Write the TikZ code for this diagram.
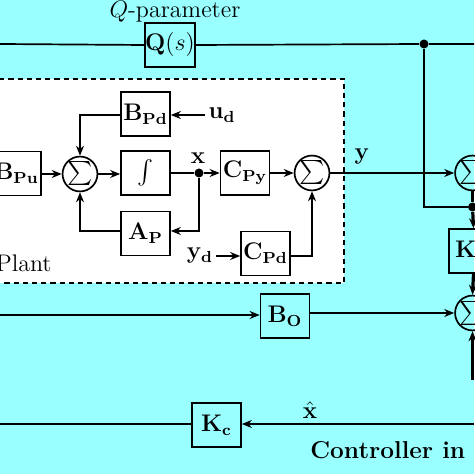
\documentclass[tikz,border=0pt]{standalone}
\usepackage{exscale}
\usetikzlibrary{arrows.meta}
\begin{document}
\begin{tikzpicture}[x=0.5pt,y=-0.5pt,
  every node/.style={font=\fontsize{12}{14}\selectfont},
  blk/.style={draw, line width=0.85pt, minimum width=24.5pt, minimum height=22pt, inner sep=0pt},
  sumc/.style={draw, circle, minimum size=16pt, inner sep=0pt, line width=0.85pt},
  dotn/.style={circle, fill, inner sep=0pt, minimum size=4.5pt},
  ln/.style={line width=0.85pt},
  conn/.style={line width=0.85pt, -{Stealth[length=5pt,width=4pt]}},
  txt/.style={inner sep=0pt}]
\definecolor{bgc}{RGB}{153,255,255}
\useasboundingbox (0,0) rectangle (474,474);
\fill[bgc] (0,0) rectangle (474,474);
% plant area
\fill[white] (-10,79) rectangle (344,283);
\draw[line width=0.9pt, dash pattern=on 2.6pt off 2pt] (-10,79) -- (344,79) -- (344,283) -- (-10,283);

% top Q path
\node[blk] (Q) at (170,45) {$\mathbf{Q}(s)$};
\node[txt] (Qlab) at (175,12) {$Q$-parameter};
\coordinate (qL) at (0,44);
\coordinate (qR) at (474,44);
\node[dotn] (d1) at (424,44) {};
\draw[ln] (qL) -- (Q.west);
\draw[ln] (Q.east) -- (d1) -- (qR);

% plant
\node[blk] (Bpu) at (16.5,173.5) {$\mathbf{B}_{\mathbf{Pu}}$};
\node[sumc] (s1) at (80,174) {$\sum$};
\node[blk] (int) at (145.5,173) {$\int$};
\node[blk] (Bpd) at (145.5,114) {$\mathbf{B}_{\mathbf{Pd}}$};
\node[txt] (ud) at (222,115) {$\mathbf{u}_{\mathbf{d}}$};
\node[dotn] (dx) at (199,173) {};
\node[txt] (xlab) at (198,158) {$\mathbf{x}$};
\node[blk] (Cpy) at (245,173) {$\mathbf{C}_{\mathbf{Py}}$};
\node[sumc] (s2) at (312,173) {$\sum$};
\node[blk] (Ap) at (145.5,233.5) {$\mathbf{A}_{\mathbf{P}}$};
\node[txt] (yd) at (200,256) {$\mathbf{y}_{\mathbf{d}}$};
\node[blk] (Cpd) at (265.5,253.5) {$\mathbf{C}_{\mathbf{Pd}}$};
\node[txt, anchor=base east] (plant) at (52,272) {Plant};

\draw[conn] (Bpu.east |- s1) -- (s1.west);
\draw[conn] (s1.east) -- (int.west |- s1);
\draw[ln] (int.east |- dx) -- (dx);
\draw[conn] (dx) -- (Cpy.west |- dx);
\draw[conn] (ud.west) ++(-3,0) -- (Bpd.east |- ud);
\draw[conn] (Bpd.west |- ud) -| (s1.north);
\draw[conn] (dx) |- (Ap.east |- 0,231);
\draw[conn] (Ap.west |- 0,231) -| (s1.south);
\draw[conn] (yd.east) ++(3,0) -- (Cpd.west |- yd);
\draw[conn] (Cpd.east |- yd) -| (s2.south);
\draw[conn] (Cpy.east |- s2) -- (s2.west);

% right side
\node[sumc] (s3) at (472.5,173) {$\sum$};
\node[sumc] (s4) at (472.5,313) {$\sum$};
\node[blk] (Ko) at (473.5,251) {$\mathbf{K}_{\mathbf{O}}$};
\node[dotn] (d2) at (472.5,207) {};
\node[txt] (ylab) at (362,157) {$\mathbf{y}$};
\draw[conn] (s2.east) -- (s3.west);
\draw[ln] (d1) |- (d2);
\draw[line width=1.6pt] (s3.south) -- (d2);
\draw[conn, line width=1.6pt] (d2) -- (Ko.north);
\draw[conn, line width=1.6pt] (Ko.south) -- (s4.north);
\coordinate (bot) at (472.5,380);
\draw[conn, line width=1.6pt] (bot) -- (s4.south);

% observer input
\node[blk] (Bo) at (285,316) {$\mathbf{B}_{\mathbf{O}}$};
\coordinate (boL) at (0,315);
\draw[conn] (boL) -- (Bo.west |- boL);
\draw[conn] (Bo.east |- s4) -- (s4.west);

% controller gain
\node[blk] (Kc) at (216.5,425) {$\mathbf{K}_{\mathbf{c}}$};
\coordinate (xhR) at (474,424);
\coordinate (kcL) at (0,424);
\node[txt] (xh) at (310,410) {$\hat{\mathbf{x}}$};
\draw[conn] (xhR) -- (Kc.east |- xhR);
\draw[ln] (Kc.west |- kcL) -- (kcL);
\node[txt, anchor=west, font=\fontsize{12.2}{14}\selectfont\bfseries] (ctl) at (310,450) {Controller in c};
\end{tikzpicture}
\end{document}
